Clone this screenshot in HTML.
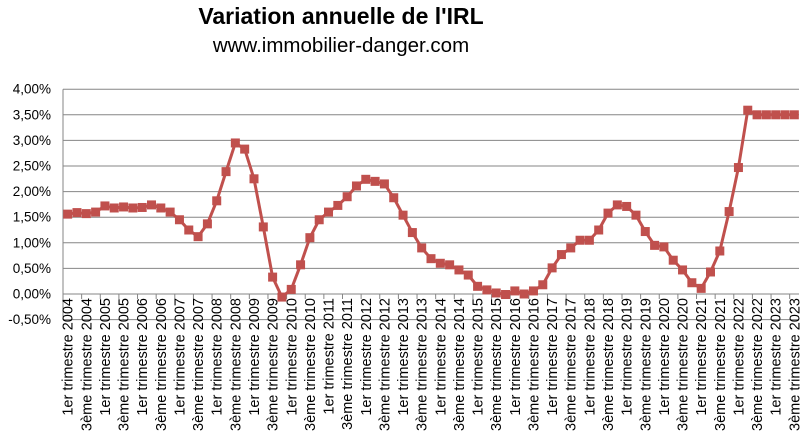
<!DOCTYPE html>
<html><head><meta charset="utf-8"><style>body{margin:0;background:#fff}svg{display:block}</style></head>
<body>
<svg id="s" width="811" height="440" xmlns="http://www.w3.org/2000/svg" font-family="Liberation Sans, sans-serif">
<text x="341" y="24" font-size="23" font-weight="bold" text-anchor="middle">Variation annuelle de l'IRL</text>
<text x="341" y="52" font-size="20.5" text-anchor="middle">www.immobilier-danger.com</text>
<g id="g"></g>
</svg>
<script>
const d=[1.56,1.59,1.57,1.60,1.72,1.68,1.70,1.68,1.69,1.74,1.68,1.60,1.45,1.25,1.12,1.37,1.82,2.39,2.95,2.83,2.25,1.31,0.33,-0.06,0.09,0.57,1.10,1.45,1.60,1.73,1.90,2.11,2.24,2.20,2.15,1.88,1.54,1.20,0.90,0.69,0.60,0.57,0.47,0.37,0.15,0.08,0.02,-0.01,0.06,0.00,0.06,0.18,0.51,0.77,0.90,1.05,1.05,1.25,1.58,1.74,1.71,1.54,1.22,0.95,0.92,0.66,0.47,0.22,0.11,0.43,0.84,1.61,2.47,3.59,3.50,3.50,3.50,3.50,3.50];
const L=63,R=799,Y0=294,S=51.2,n=79,w=(R-L)/n;
let h='';
for(let i=0;i<=9;i++){const v=4-i*0.5,y=Y0-v*S;
 h+=`<line x1="${L}" x2="${R}" y1="${y}" y2="${y}" stroke="#868686" stroke-width="1"/>`;
 h+=`<text x="51" y="${y+4.5}" font-size="13.5" text-anchor="end">${v.toFixed(2).replace('.',',')}%</text>`;}
h+=`<line x1="${L}" x2="${L}" y1="${Y0-4*S}" y2="${Y0+0.5*S}" stroke="#868686"/>`;
for(let i=0;i<=n;i+=2){const x=L+i*w;h+=`<line x1="${x}" x2="${x}" y1="${Y0}" y2="${Y0+5}" stroke="#868686"/>`;}
for(let i=0;i<n;i+=2){const x=L+(i+0.5)*w,yr=2004+Math.floor(i/4),q=i%4==0?'1er':'3ème';
 h+=`<text transform="translate(${x+5},298) rotate(-90)" font-size="14.5" text-anchor="end">${q} trimestre ${yr}</text>`;}
let p=d.map((v,i)=>`${L+(i+0.5)*w},${Y0-v*S}`).join(' ');
h+=`<polyline points="${p}" fill="none" stroke="#c0504d" stroke-width="3"/>`;
d.forEach((v,i)=>{h+=`<rect x="${L+(i+0.5)*w-4.5}" y="${Y0-v*S-4.5}" width="9" height="9" fill="#c0504d"/>`});
document.getElementById('g').innerHTML=h;
</script>
</body></html>
